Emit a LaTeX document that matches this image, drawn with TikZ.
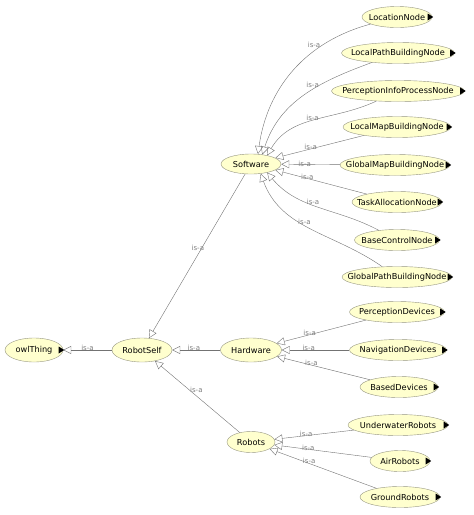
\documentclass[tikz,border=0pt]{standalone}
\usepackage{fontspec}
\setmainfont{DejaVu Sans}
\usetikzlibrary{shapes.geometric,arrows.meta}
\definecolor{clsfill}{RGB}{255,255,206}
\definecolor{clsline}{RGB}{150,150,130}
\definecolor{edgegray}{RGB}{115,115,115}
\begin{document}
\begin{tikzpicture}[
    x=1pt, y=-1pt,
    cls/.style={ellipse, draw=clsline, fill=clsfill, inner xsep=-12pt, inner ysep=0pt,
        minimum height=21pt, minimum width=#1, font=\fontsize{8.2}{9}\selectfont},
    cls/.default=60pt,
    isa/.style={draw=edgegray, -{Triangle[open, length=8pt, width=8pt]}},
    lbl/.style={font=\fontsize{7}{8}\selectfont, text=gray, inner sep=1pt}
]
\useasboundingbox (0,0) rectangle (474,515);

% Upper classes
\node[cls=58pt, minimum height=24pt] (thing) at (34,350) {owlThing};
\node[cls=60pt, minimum height=24pt] (self) at (142,350) {RobotSelf};
\node[cls=60pt, minimum height=20pt] (sw) at (251,164) {Software};
\node[cls=61pt, minimum height=24pt] (hw) at (251,350) {Hardware};
\node[cls=48pt] (rb) at (251,442) {Robots};

% Software subclasses
\node[cls=70pt] (loc) at (397,17) {LocationNode};
\node[cls=113pt] (lpb) at (398,53) {LocalPathBuildingNode};
\node[cls=133pt] (pip) at (398,91) {PerceptionInfoProcessNode};
\node[cls=108pt] (lmb) at (397,127) {LocalMapBuildingNode};
\node[cls=110pt] (gmb) at (395,165) {GlobalMapBuildingNode};
\node[cls=90pt] (ta) at (397,202) {TaskAllocationNode};
\node[cls=85pt] (bc) at (397,240) {BaseControlNode};
\node[cls=110pt] (gpb) at (397,277) {GlobalPathBuildingNode};

% Hardware subclasses
\node[cls=95pt] (pd) at (397,312) {PerceptionDevices};
\node[cls=97pt] (nd) at (398,350) {NavigationDevices};
\node[cls=78pt] (bd) at (399,387) {BasedDevices};

% Robots subclasses
\node[cls=100pt] (uw) at (398,425) {UnderwaterRobots};
\node[cls=60pt] (air) at (400,461) {AirRobots};
\node[cls=80pt] (gr) at (400,497) {GroundRobots};

% markers for classes with hidden subclasses
\foreach \n in {thing,loc,lpb,pip,lmb,gmb,ta,bc,gpb,pd,nd,bd,uw,air,gr}
  \fill (\n.east) ++(-4.5pt,3.5pt) -- ++(5.5pt,-3.5pt) -- ++(-5.5pt,-3.5pt) -- cycle;

% is-a links
\draw[isa] (self) -- node[lbl, above=-2pt] {is-a} (thing);
\draw[isa] (hw) -- node[lbl, above=-2pt, pos=0.55] {is-a} (self);
\draw[isa] (sw) -- node[lbl, pos=0.45, xshift=-4pt] {is-a} (self);
\draw[isa] (rb) -- node[lbl, pos=0.6, right=0pt] {is-a} (self);

\draw[isa] (loc) to[out=195, in=82] node[lbl, pos=0.3, above left=-2pt] {is-a} (sw.55);
\draw[isa] (lpb) to[out=200, in=72] node[lbl, pos=0.38, above left=-2pt] {is-a} (sw.40);
\draw[isa] (pip) to[out=205, in=60] node[lbl, pos=0.47, above left=-2pt] {is-a} (sw.28);
\draw[isa] (lmb) -- node[lbl, pos=0.6, above=-2pt] {is-a} (sw.14);
\draw[isa] (gmb) -- node[lbl, pos=0.6, above=-3pt] {is-a} (sw);
\draw[isa] (ta) -- node[lbl, pos=0.65, above=-2pt] {is-a} (sw.-14);
\draw[isa] (bc) to[out=152, in=-50] node[lbl, pos=0.55, above=-1pt] {is-a} (sw.-28);
\draw[isa] (gpb) to[out=145, in=-70] node[lbl, pos=0.55, above=-1pt] {is-a} (sw.-45);

\draw[isa] (pd) -- node[lbl, pos=0.63, above=-2pt] {is-a} (hw);
\draw[isa] (nd) -- node[lbl, pos=0.6, above=-2pt] {is-a} (hw);
\draw[isa] (bd) -- node[lbl, pos=0.63, above=-2pt] {is-a} (hw);

\draw[isa] (uw) -- node[lbl, pos=0.6, above=-2pt] {is-a} (rb);
\draw[isa] (air) -- node[lbl, pos=0.65, above=-2pt] {is-a} (rb);
\draw[isa] (gr) -- node[lbl, pos=0.63, above=-1pt] {is-a} (rb);
\end{tikzpicture}
\end{document}
